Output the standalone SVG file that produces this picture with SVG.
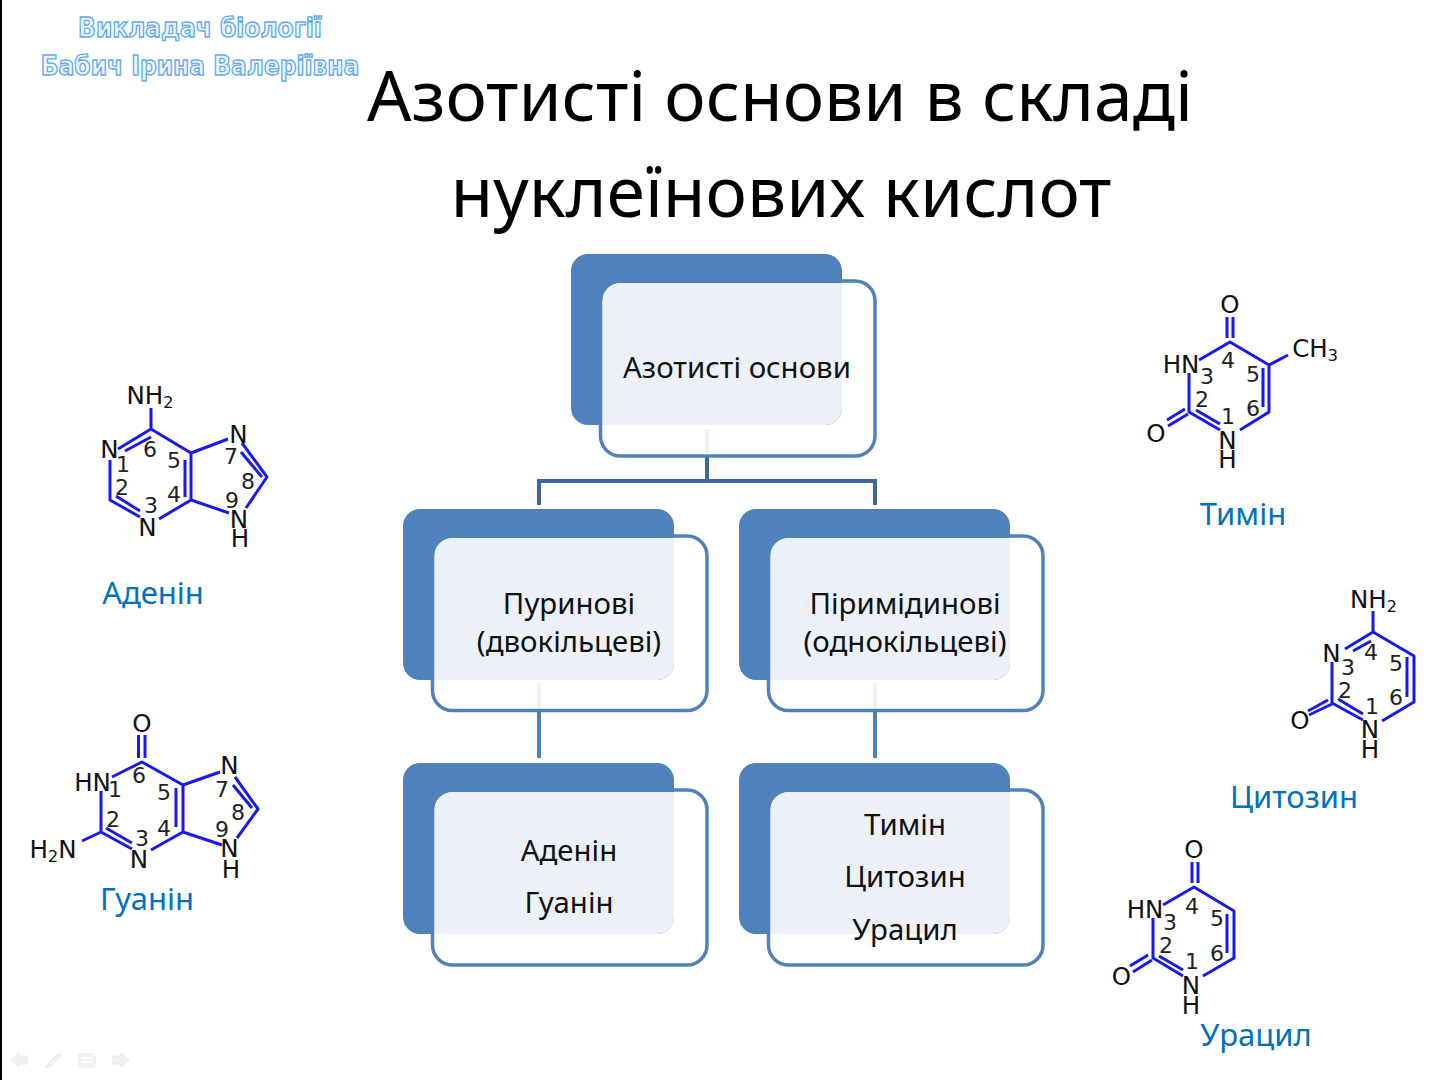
<svg xmlns="http://www.w3.org/2000/svg" width="1444" height="1080" viewBox="0 0 1444 1080">
<defs>
<style>
text{font-family:"Noto Sans","DejaVu Sans",sans-serif}
.title{font-size:69.6px;fill:#000;text-anchor:middle}
.wm{font-family:"DejaVu Sans Condensed","DejaVu Sans",sans-serif;font-weight:bold;font-size:26px;fill:#eef6ff;stroke:#62a9f6;stroke-width:1.3px;text-anchor:middle}
.lab{font-size:29.4px;fill:#111;text-anchor:middle}
.name{font-size:31px;fill:#0070c0;text-anchor:middle}
.back{fill:#4f81bd}
.out{fill:none;stroke:#4f81bd;stroke-width:3.5px}
.lite{fill:#ecf1f9}
.conn{fill:none;stroke:#3f6797;stroke-width:4px}
.conn2{fill:none;stroke:#4f81bd;stroke-width:4px}
.stub{fill:none;stroke:#ecf1f9;stroke-width:4px}
.b{fill:none;stroke:#1818f0;stroke-width:3px;stroke-linejoin:round}
.a{font-family:"DejaVu Sans",sans-serif;font-size:24.5px;fill:#111;text-anchor:middle}
.s{font-size:16px}
.n{font-family:"DejaVu Sans",sans-serif;font-size:22px;fill:#222;text-anchor:middle}
.nav{fill:#f1f1f1;stroke:#e8e8e8;stroke-width:1px}
.navl{stroke:#fff;stroke-width:1.5px;fill:none}
</style>
</defs>
<rect width="1444" height="1080" fill="#fff"/>
<rect x="0" y="0" width="2" height="1080" fill="#000"/>
<g id="watermark">
<text class="wm" x="200" y="37">Викладач біології</text>
<text class="wm" x="200" y="75">Бабич Ірина Валеріївна</text>
</g>
<g id="title">
<text class="title" x="780" y="121">Азотисті основи в складі</text>
<text class="title" x="781" y="217">нуклеїнових кислот</text>
</g>
<g id="connectors">
<path class="stub" d="M707 429V454"/>
<path class="conn" d="M707 457V481M539 505V481H875V505"/>
<path class="stub" d="M539 683V708M875 683V708"/>
<path class="conn2" d="M539 711V758M875 711V758"/>
</g>
<g id="node-root">
<rect class="back" x="571" y="254" width="271" height="171" rx="17"/>
<path class="lite" d="M602 301a18 18 0 0 1 18-18H842V408a17 17 0 0 1-17 17H602Z"/>
<rect class="out" x="600.500" y="281" width="274.500" height="175" rx="20"/>
<text class="lab" x="737" y="378">Азотисті основи</text>
</g>
<g id="node-purine">
<rect class="back" x="403" y="509" width="271" height="171" rx="17"/>
<path class="lite" d="M434 556a18 18 0 0 1 18-18H674V663a17 17 0 0 1-17 17H434Z"/>
<rect class="out" x="432.500" y="536" width="274.500" height="174.500" rx="20"/>
<text class="lab" x="569" y="614">Пуринові</text>
<text class="lab" x="569" y="652">(двокільцеві)</text>
</g>
<g id="node-pyrimidine">
<rect class="back" x="739" y="509" width="271" height="171" rx="17"/>
<path class="lite" d="M770 556a18 18 0 0 1 18-18H1010V663a17 17 0 0 1-17 17H770Z"/>
<rect class="out" x="768.500" y="536" width="274.500" height="174.500" rx="20"/>
<text class="lab" x="905" y="614">Піримідинові</text>
<text class="lab" x="905" y="652">(однокільцеві)</text>
</g>
<g id="node-purines-list">
<rect class="back" x="403" y="763" width="271" height="171" rx="17"/>
<path class="lite" d="M434 810a18 18 0 0 1 18-18H674V917a17 17 0 0 1-17 17H434Z"/>
<rect class="out" x="432.500" y="790" width="274.500" height="175" rx="20"/>
<text class="lab" x="569" y="861">Аденін</text>
<text class="lab" x="569" y="913">Гуанін</text>
</g>
<g id="node-pyrimidines-list">
<rect class="back" x="739" y="763" width="271" height="171" rx="17"/>
<path class="lite" d="M770 810a18 18 0 0 1 18-18H1010V917a17 17 0 0 1-17 17H770Z"/>
<rect class="out" x="768.500" y="790" width="274.500" height="175" rx="20"/>
<text class="lab" x="905" y="835">Тимін</text>
<text class="lab" x="905" y="887">Цитозин</text>
<text class="lab" x="905" y="940">Урацил</text>
</g>
<g id="adenine">
<path class="b" d="M151 408V429L191 453V500L159 519M110 460V500L140 517M116 496L140 511M118 449L151 429M125 451L151 437M185 460V497M191 453L228 439M242 443L267 477L246 508M241 452L262 477M191 500L229 513"/>
<text class="a" x="150" y="404">NH<tspan class="s" dy="4">2</tspan></text>
<text class="a" x="109.500" y="458">N</text><text class="a" x="147.500" y="536">N</text><text class="a" x="238.500" y="443">N</text><text class="a" x="239" y="527.500">N</text><text class="a" x="240" y="547">H</text>
<text class="n" x="123" y="471.500">1</text><text class="n" x="122" y="495">2</text><text class="n" x="151" y="513">3</text><text class="n" x="174" y="502">4</text><text class="n" x="174" y="467.500">5</text><text class="n" x="150" y="457">6</text><text class="n" x="231" y="464">7</text><text class="n" x="248" y="489">8</text><text class="n" x="232" y="507.500">9</text>
<text class="name" x="153" y="604">Аденін</text>
</g>
<g id="guanine">
<path class="b" d="M101 791V832L82 841M101 832L132 849M106 828L132 843M112 777L142 762L183 785V832L151 850M138.500 735V758M145 735V758M176 788V827M183 785L220 772M235 777L258 809L237 838M233 785L252 808M183 832L222 845"/>
<text class="a" x="92.500" y="791">HN</text><text class="a" x="53" y="858">H<tspan class="s" dy="4">2</tspan><tspan dy="-4">N</tspan></text>
<text class="a" x="142" y="731.500">O</text><text class="a" x="139" y="867.500">N</text><text class="a" x="229.500" y="774">N</text><text class="a" x="229.500" y="857">N</text><text class="a" x="231" y="878">H</text>
<text class="n" x="115" y="797">1</text><text class="n" x="113" y="827">2</text><text class="n" x="142" y="846">3</text><text class="n" x="164" y="836">4</text><text class="n" x="164" y="800">5</text><text class="n" x="139" y="783">6</text><text class="n" x="222" y="797">7</text><text class="n" x="238" y="820">8</text><text class="n" x="222" y="837">9</text>
<text class="name" x="147" y="910">Гуанін</text>
</g>
<g id="thymine">
<path class="b" d="M1227 317V338M1233 317V338M1199 360L1230 342L1269 365V412L1240 430M1189 373V412L1220 430M1196 410L1220 424M1263 368V407M1269 365L1288 355M1188 414L1168 426M1185 409L1167 420"/>
<text class="a" x="1181" y="373">HN</text><text class="a" x="1230" y="313">O</text><text class="a" x="1156" y="441.500">O</text><text class="a" x="1227.500" y="449">N</text><text class="a" x="1227.500" y="468">H</text>
<text class="a" x="1315" y="356.500">CH<tspan class="s" dy="4">3</tspan></text>
<text class="n" x="1228" y="424">1</text><text class="n" x="1202" y="407">2</text><text class="n" x="1207" y="384">3</text><text class="n" x="1228" y="368">4</text><text class="n" x="1253" y="381.500">5</text><text class="n" x="1253" y="415.500">6</text>
<text class="name" x="1243" y="525">Тимін</text>
</g>
<g id="cytosine">
<path class="b" d="M1373 611V632L1414 656V702L1382 721M1373 632L1345 649M1371 641L1353 651M1332 662V703L1363 720M1338 699L1363 714M1407 657V697M1332 704L1309 715M1328 700L1308 711"/>
<text class="a" x="1373.500" y="608">NH<tspan class="s" dy="4">2</tspan></text>
<text class="a" x="1331.500" y="661.500">N</text><text class="a" x="1300" y="729">O</text><text class="a" x="1370" y="738">N</text><text class="a" x="1370" y="758">H</text>
<text class="n" x="1372" y="714">1</text><text class="n" x="1345" y="698">2</text><text class="n" x="1348" y="675">3</text><text class="n" x="1371" y="660">4</text><text class="n" x="1396" y="671">5</text><text class="n" x="1396" y="705">6</text>
<text class="name" x="1294" y="808">Цитозин</text>
</g>
<g id="uracil">
<path class="b" d="M1192 862V883M1198 862V883M1163 905L1194 887L1234 911V958L1203 976M1153 918V958L1183 976M1159 956L1183 970M1227 914V953M1152 960L1133 972M1148 955L1130 966"/>
<text class="a" x="1145" y="918">HN</text><text class="a" x="1194" y="858">O</text><text class="a" x="1121.500" y="985">O</text><text class="a" x="1191" y="994">N</text><text class="a" x="1191" y="1014">H</text>
<text class="n" x="1192" y="969">1</text><text class="n" x="1166" y="953">2</text><text class="n" x="1170" y="930">3</text><text class="n" x="1192" y="914">4</text><text class="n" x="1217" y="926">5</text><text class="n" x="1217" y="961">6</text>
<text class="name" x="1256" y="1046">Урацил</text>
</g>
<g id="nav">
<path class="nav" d="M11 1060L19 1053V1056H27V1064H19V1067Z"/>
<path class="nav" d="M46 1068L49 1062L59 1054L61 1056L51 1066Z"/>
<rect class="nav" x="79" y="1054" width="16" height="13" rx="2"/>
<path class="navl" d="M81 1058H93M81 1062H93"/>
<path class="nav" d="M129 1060L121 1053V1056H113V1064H121V1067Z"/>
</g>
</svg>
